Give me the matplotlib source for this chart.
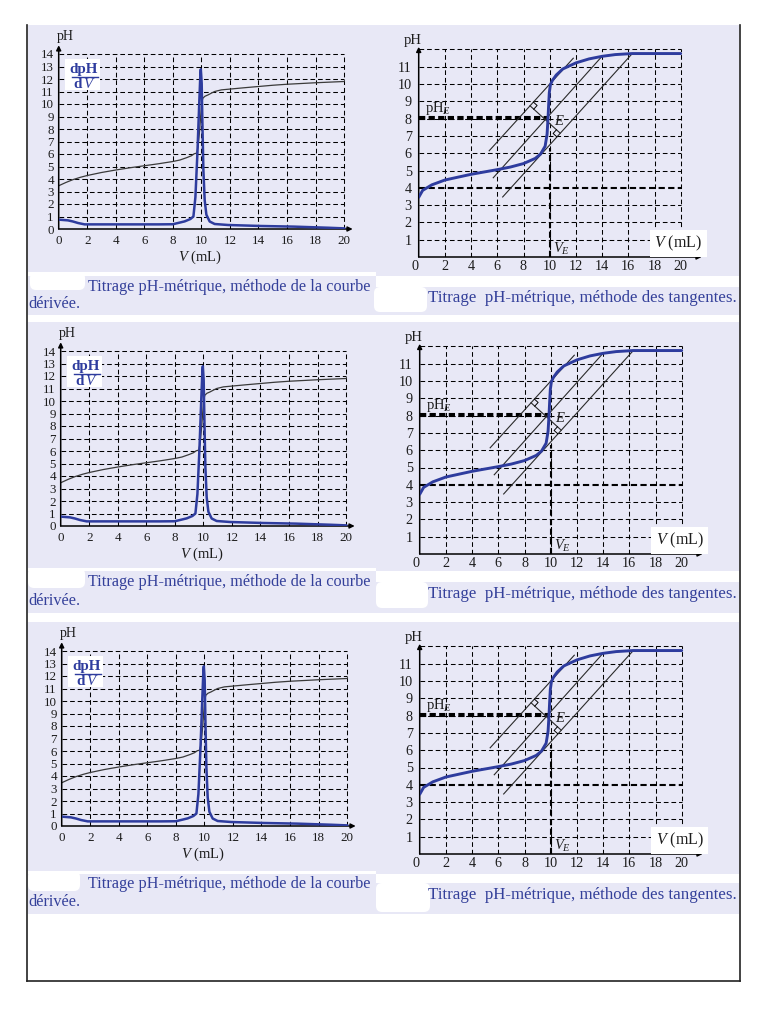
import numpy as np
import matplotlib
matplotlib.use("Agg")
import matplotlib.pyplot as plt
from matplotlib.patches import Rectangle, FancyBboxPatch

# ---------------- data ----------------
V_ph = [0, 0.5, 1, 1.5, 2, 3, 4, 5, 6, 7, 8, 8.5, 9, 9.3, 9.5, 9.67, 9.77, 9.88, 9.94, 10.0,
        10.05, 10.1, 10.25, 10.47, 10.7, 10.93, 11.4, 11.87, 13, 14, 15, 16, 17, 18, 19, 20]
pH_ph = [3.46, 3.72, 3.95, 4.13, 4.28, 4.52, 4.72, 4.9, 5.06, 5.22, 5.4, 5.52, 5.72, 5.86, 6.02,
         6.07, 6.6, 7.93, 8.9, 9.8, 10.2, 10.46, 10.62, 10.73, 10.87, 11.0, 11.13, 11.18, 11.3,
         11.4, 11.5, 11.58, 11.64, 11.7, 11.75, 11.8]

V_d = [0, 0.65, 1.0, 1.35, 1.82, 3, 4, 5, 6, 7, 8, 8.36, 8.83, 9.23, 9.44, 9.58, 9.72, 9.84,
       9.93, 9.96, 10.02, 10.07, 10.14, 10.23, 10.35, 10.58, 10.93, 11.87, 14.2, 16.5, 18.9, 20]
dpdv = [0.75, 0.69, 0.6, 0.48, 0.37, 0.37, 0.37, 0.37, 0.37, 0.37, 0.38, 0.48, 0.61, 0.8, 1.0,
        2.55, 6.07, 9.8, 12.46, 12.78, 11.66, 8.46, 4.7, 2.3, 1.14, 0.6, 0.4, 0.32, 0.24, 0.19,
        0.1, 0.05]

V_t = [0, 0.3, 1, 2, 4, 6, 7, 8, 8.9, 9.3, 9.65, 9.8, 9.87, 9.92, 9.97, 10.05, 10.2, 10.5, 11,
       12, 13, 14, 15, 16.3, 18, 20]
pH_t = [3.45, 3.85, 4.17, 4.45, 4.78, 5.05, 5.2, 5.4, 5.7, 5.95, 6.4, 7.1, 8.0, 8.8, 9.5, 9.95,
        10.2, 10.52, 10.87, 11.22, 11.45, 11.6, 11.7, 11.76, 11.76, 11.76]

tangent_V = [[5.38, 11.8], [5.69, 13.97], [6.41, 16.28]]
tangent_pH = [[6.14, 11.49], [4.58, 11.58], [3.47, 11.74]]
perp_V = [8.5, 10.8]
perp_pH = [8.74, 7.16]
V_E = 10.0
pH_E_lines = [8.0, 8.1]
pH_ref = 4.0

x_ticks = list(range(0, 21, 2))
left_y_ticks = list(range(0, 15))
right_y_ticks = list(range(1, 12))
right_grid_y = list(range(1, 13))

caption_left_1 = "Titrage pH-métrique, méthode de la courbe"
caption_left_2 = "dérivée."
caption_right = "Titrage  pH-métrique, méthode des tangentes."

# ---------------- style ----------------
LAV = "#e8e8f6"
BLUE = "#2e3c9e"
CAPC = "#34409a"
TXT = "#1c1c1c"
SERIF = "Liberation Serif"
plt.rcParams["font.family"] = SERIF
plt.rcParams["mathtext.fontset"] = "custom"
plt.rcParams["mathtext.rm"] = SERIF
plt.rcParams["mathtext.it"] = SERIF + ":italic"
plt.rcParams["mathtext.bf"] = SERIF + ":bold"

W, H = 768, 1024
fig = plt.figure(figsize=(W / 100, H / 100), dpi=100)
fig.patch.set_facecolor("white")

bg = fig.add_axes([0, 0, 1, 1], zorder=0)
bg.set_xlim(0, W)
bg.set_ylim(H, 0)
bg.axis("off")


def rect(x0, y0, x1, y1, color, rounded=False):
    if rounded:
        bg.add_patch(FancyBboxPatch((x0, y0), x1 - x0, y1 - y0,
                                    boxstyle="round,pad=0,rounding_size=6",
                                    fc=color, ec="none"))
    else:
        bg.add_patch(Rectangle((x0, y0), x1 - x0, y1 - y0, fc=color, ec="none"))


# lavender page
rect(28, 25, 739, 915, LAV)
# white strips / blobs
rows_bands = [
    dict(thin=(272, 276), rwhite=(276, 287), sep=(315, 322), lblob=(30, 85, 272, 290), rblob=(374, 427, 287, 312)),
    dict(thin=(568, 571), rwhite=(571, 582), sep=(613, 622), lblob=(28, 85, 568, 588), rblob=(376, 428, 582, 608)),
    dict(thin=(871, 874), rwhite=(874, 883), sep=(914, 916), lblob=(28, 80, 871, 891), rblob=(376, 430, 883, 912)),
]
for b in rows_bands:
    rect(28, b["thin"][0], 376, b["thin"][1], "white")
    rect(376, b["rwhite"][0], 739, b["rwhite"][1], "white")
    rect(28, b["sep"][0], 739, b["sep"][1], "white")
    x0, x1, y0, y1 = b["lblob"]
    rect(x0, y0, x1, y1, "white", rounded=True)
    x0, x1, y0, y1 = b["rblob"]
    rect(x0, y0, x1, y1, "white", rounded=True)

# frame
bg.plot([27, 27], [25, 981], color="#222222", lw=1.2)
bg.plot([740, 740], [25, 981], color="#222222", lw=1.2)
bg.plot([27, 740], [981, 981], color="#222222", lw=1.2)

# captions
cap_rows = [(287, 304, 298), (582, 601, 594), (884, 902, 895)]
for y1, y2, yr in cap_rows:
    bg.text(88, y1, caption_left_1, ha="left", va="center", color=CAPC, fontsize=11.7)
    bg.text(28, y2, caption_left_2, ha="left", va="center", color=CAPC, fontsize=11.7)
    bg.text(428, yr, caption_right, ha="left", va="center", color=CAPC, fontsize=12.2)


def px_axes(x0, x1, ytop, ybot):
    return fig.add_axes([x0 / W, 1 - ybot / H, (x1 - x0) / W, (ybot - ytop) / H], zorder=2)


GRID = dict(color="black", lw=0.75, linestyle=(0, (4.5, 2.8)))
BOLD = dict(color="black", lw=1.5, linestyle=(0, (3.0, 1.6)))


def style_axes(ax, yticks, ylabels):
    ax.set_facecolor("none")
    for s in ax.spines.values():
        s.set_visible(False)
    ax.set_xticks(x_ticks)
    ax.set_xticklabels([str(v) for v in x_ticks])
    ax.set_yticks(yticks)
    ax.set_yticklabels(ylabels)
    ax.tick_params(length=0, colors=TXT)


def arrows(ax, xe, ye):
    ap = dict(arrowstyle="-|>", lw=1.1, color="black", mutation_scale=7, shrinkA=0, shrinkB=0)
    ax.annotate("", xy=(xe, 0), xytext=(0, 0), arrowprops=ap, annotation_clip=False)
    ax.annotate("", xy=(0, ye), xytext=(0, 0), arrowprops=ap, annotation_clip=False)


def deriv_chart(dx, dy):
    x0, ux = 58.7 + dx, 14.27
    y0, uy = 229 + dy, 12.5
    ax = px_axes(x0, x0 + 21 * ux, y0 - 15 * uy, y0)
    ax.set_xlim(0, 21)
    ax.set_ylim(0, 15)
    style_axes(ax, left_y_ticks, [str(v) for v in left_y_ticks])
    ax.tick_params(axis="y", pad=3.5, labelsize=9.4)
    ax.tick_params(axis="x", pad=4.0, labelsize=9.4)
    ax.hlines(left_y_ticks[1:], 0, 20, **GRID)
    ax.vlines(x_ticks[1:], 0, 14, **GRID)
    ax.plot(V_ph, pH_ph, color="#3a3a3a", lw=0.9, zorder=3)
    ax.plot(V_d, dpdv, color=BLUE, lw=1.8, zorder=4, solid_joinstyle="round")
    arrows(ax, 20.6, 14.7)
    ax.text(0.45, 15.4, "pH", ha="center", va="center", fontsize=10, color=TXT, clip_on=False)
    ax.text(9.9, -2.25, r"$V$ (mL)", ha="center", va="center", fontsize=10.5, color=TXT, clip_on=False)
    # dpH/dV label box
    ax.add_patch(Rectangle((0.46, 11.1), 2.45, 2.5, fc="white", ec="none", zorder=5))
    ax.text(1.72, 12.78, "dpH", ha="center", va="center", fontsize=10.8, fontweight="bold",
            color=BLUE, zorder=6)
    ax.plot([0.95, 2.75], [12.2, 12.2], color=BLUE, lw=1.0, zorder=6)
    ax.text(1.82, 11.6, r"$\mathbf{d}\,\mathbf{\mathit{V}}$", ha="center", va="center", fontsize=10.8,
            color=BLUE, zorder=6)
    return ax


def square(ax, p, u, n, a, ux, uy):
    pts = [(p[0] + a * u[0] / ux, p[1] + a * u[1] / uy),
           (p[0] + a * (u[0] + n[0]) / ux, p[1] + a * (u[1] + n[1]) / uy),
           (p[0] + a * n[0] / ux, p[1] + a * n[1] / uy)]
    ax.plot([q[0] for q in pts], [q[1] for q in pts], color="black", lw=0.7, zorder=4)


def tangent_chart(dx, dy):
    x0, ux = 418.7 + dx, 13.1
    y0, uy = 257 + dy, 17.3
    ax = px_axes(x0, x0 + 22 * ux, y0 - 12.5 * uy, y0)
    ax.set_xlim(0, 22)
    ax.set_ylim(0, 12.5)
    style_axes(ax, right_y_ticks, [str(v) for v in right_y_ticks])
    ax.tick_params(axis="y", pad=5, labelsize=10.2)
    ax.tick_params(axis="x", pad=2.5, labelsize=10.2)
    ax.get_xticklabels()[0].set_ha("right")
    ax.hlines([g for g in right_grid_y if g != pH_ref], 0, 20, **GRID)
    ax.vlines(x_ticks[1:], 0, 12, **GRID)
    ax.hlines([pH_ref], 0, 20, **BOLD)
    ax.hlines(pH_E_lines, 0, 9.9, **BOLD)
    ax.vlines([V_E], 0, 6.3, **BOLD)
    for tv, tp in zip(tangent_V, tangent_pH):
        ax.plot(tv, tp, color="#2a2a2a", lw=0.8, zorder=3)
    ax.plot(perp_V, perp_pH, color="#2a2a2a", lw=0.8, zorder=3)
    slope = (tangent_pH[0][1] - tangent_pH[0][0]) / (tangent_V[0][1] - tangent_V[0][0])
    u = np.array([ux, slope * uy]); u = u / np.hypot(*u)
    n = np.array([u[1], -u[0]])
    square(ax, (perp_V[0], perp_pH[0]), u, n, 5, ux, uy)
    square(ax, (perp_V[1], perp_pH[1]), -u, -n, 5, ux, uy)
    ax.plot(V_t, pH_t, color=BLUE, lw=2.1, zorder=5, solid_joinstyle="round",
            solid_capstyle="round")
    arrows(ax, 21.6, 12.15)
    ax.text(-0.45, 12.5, "pH", ha="center", va="center", fontsize=10.5, color=TXT, clip_on=False)
    ax.text(0.45, 8.6, r"pH$_{\mathit{E}}$", ha="left", va="center", fontsize=10.5, color=TXT, zorder=6)
    ax.text(10.75, 7.85, r"$E$", ha="center", va="center", fontsize=10.5, color=TXT, zorder=6)
    ax.text(10.25, 0.45, r"$V_E$", ha="left", va="center", fontsize=10.5, color=TXT, zorder=6)
    ax.text(18.0, 0.78, r"$V$ (mL)", ha="left", va="center", fontsize=11.5, color=TXT, zorder=6,
            clip_on=False, bbox=dict(fc="white", ec="none", pad=3))
    return ax


left_dx = [0, 2, 3]
right_dx = [0, 1, 1]
row_dy = [0, 297, 597]
for i in range(3):
    deriv_chart(left_dx[i], row_dy[i])
    tangent_chart(right_dx[i], row_dy[i])

fig.savefig("out.png", dpi=100, facecolor="white")
